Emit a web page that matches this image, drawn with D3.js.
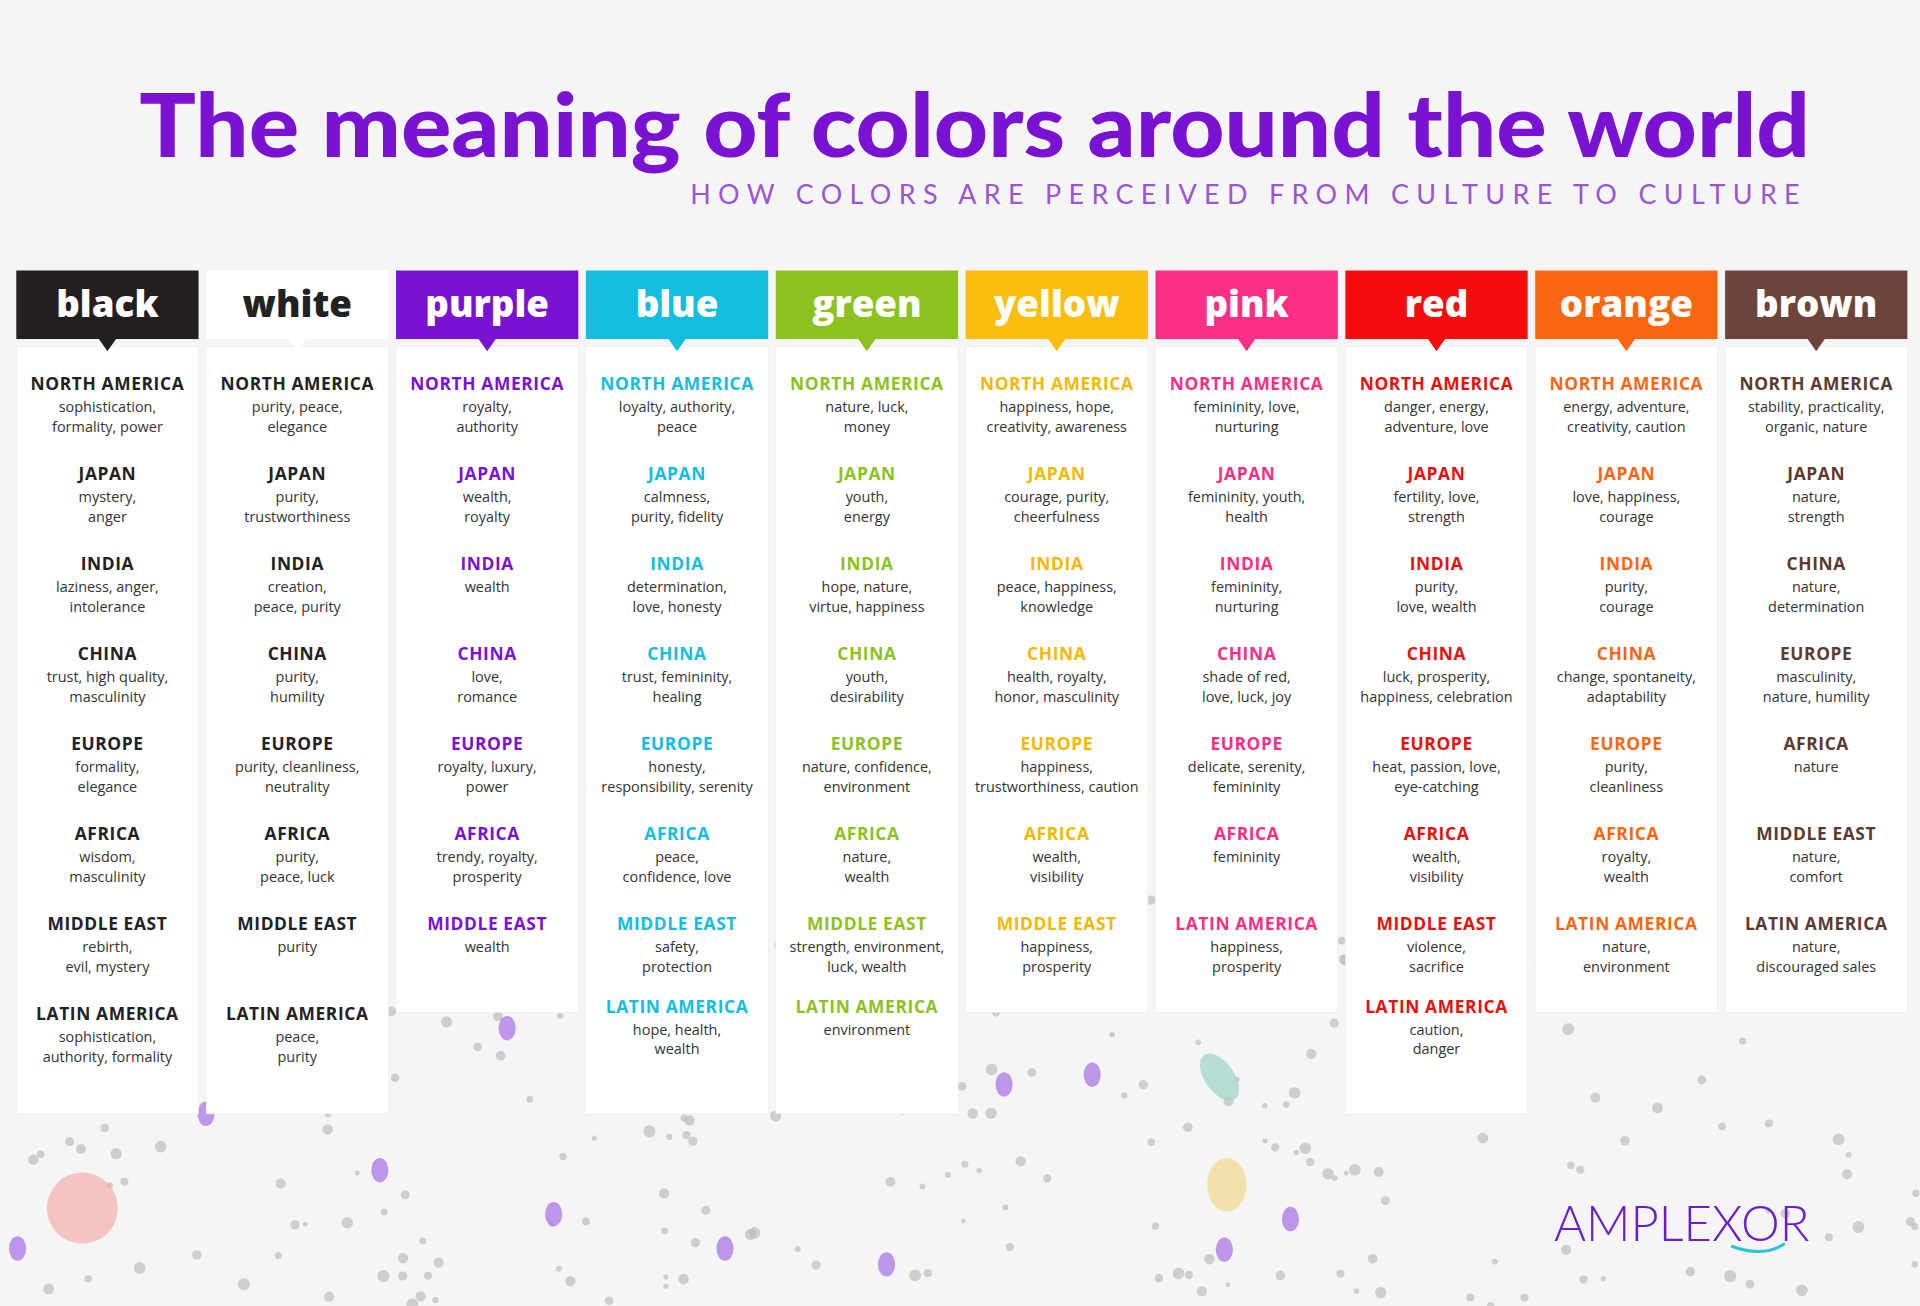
<!DOCTYPE html>
<html><head><meta charset="utf-8">
<script src="https://cdn.jsdelivr.net/npm/d3@7"></script>
<style>body{margin:0;background:#f5f5f5;overflow:hidden}svg{display:block}</style>
</head><body>
<svg id="c" width="1920" height="1306" viewBox="0 0 1568 1067"></svg>
<script>
const colorNames = ["black","white","purple","blue","green","yellow","pink","red","orange","brown"];
const headerColors = ["#231f20","#ffffff","#7a12d4","#13bde0","#8cc21f","#fbbe0f","#fb2f86","#f50c0c","#fb6611","#6d4439"];
const textColors = ["#222","#222","#7a12d4","#13bde0","#8cc21f","#f5b800","#fb2f86","#e8100e","#fb6611","#5a3a32"];
const blackData = [["NORTH AMERICA","sophistication,|formality, power"],["JAPAN","mystery,|anger"],["INDIA","laziness, anger,|intolerance"],["CHINA","trust, high quality,|masculinity"],["EUROPE","formality,|elegance"],["AFRICA","wisdom,|masculinity"],["MIDDLE EAST","rebirth,|evil, mystery"],["LATIN AMERICA","sophistication,|authority, formality"]];
const whiteData = [["NORTH AMERICA","purity, peace,|elegance"],["JAPAN","purity,|trustworthiness"],["INDIA","creation,|peace, purity"],["CHINA","purity,|humility"],["EUROPE","purity, cleanliness,|neutrality"],["AFRICA","purity,|peace, luck"],["MIDDLE EAST","purity"],["LATIN AMERICA","peace,|purity"]];
const purpleData = [["NORTH AMERICA","royalty,|authority"],["JAPAN","wealth,|royalty"],["INDIA","wealth"],["CHINA","love,|romance"],["EUROPE","royalty, luxury,|power"],["AFRICA","trendy, royalty,|prosperity"],["MIDDLE EAST","wealth"]];
const blueData = [["NORTH AMERICA","loyalty, authority,|peace"],["JAPAN","calmness,|purity, fidelity"],["INDIA","determination,|love, honesty"],["CHINA","trust, femininity,|healing"],["EUROPE","honesty,|responsibility, serenity"],["AFRICA","peace,|confidence, love"],["MIDDLE EAST","safety,|protection"],["LATIN AMERICA","hope, health,|wealth"]];
const greenData = [["NORTH AMERICA","nature, luck,|money"],["JAPAN","youth,|energy"],["INDIA","hope, nature,|virtue, happiness"],["CHINA","youth,|desirability"],["EUROPE","nature, confidence,|environment"],["AFRICA","nature,|wealth"],["MIDDLE EAST","strength, environment,|luck, wealth"],["LATIN AMERICA","environment"]];
const yellowData = [["NORTH AMERICA","happiness, hope,|creativity, awareness"],["JAPAN","courage, purity,|cheerfulness"],["INDIA","peace, happiness,|knowledge"],["CHINA","health, royalty,|honor, masculinity"],["EUROPE","happiness,|trustworthiness, caution"],["AFRICA","wealth,|visibility"],["MIDDLE EAST","happiness,|prosperity"]];
const pinkData = [["NORTH AMERICA","femininity, love,|nurturing"],["JAPAN","femininity, youth,|health"],["INDIA","femininity,|nurturing"],["CHINA","shade of red,|love, luck, joy"],["EUROPE","delicate, serenity,|femininity"],["AFRICA","femininity"],["LATIN AMERICA","happiness,|prosperity"]];
const redData = [["NORTH AMERICA","danger, energy,|adventure, love"],["JAPAN","fertility, love,|strength"],["INDIA","purity,|love, wealth"],["CHINA","luck, prosperity,|happiness, celebration"],["EUROPE","heat, passion, love,|eye-catching"],["AFRICA","wealth,|visibility"],["MIDDLE EAST","violence,|sacrifice"],["LATIN AMERICA","caution,|danger"]];
const orangeData = [["NORTH AMERICA","energy, adventure,|creativity, caution"],["JAPAN","love, happiness,|courage"],["INDIA","purity,|courage"],["CHINA","change, spontaneity,|adaptability"],["EUROPE","purity,|cleanliness"],["AFRICA","royalty,|wealth"],["LATIN AMERICA","nature,|environment"]];
const brownData = [["NORTH AMERICA","stability, practicality,|organic, nature"],["JAPAN","nature,|strength"],["CHINA","nature,|determination"],["EUROPE","masculinity,|nature, humility"],["AFRICA","nature"],["MIDDLE EAST","nature,|comfort"],["LATIN AMERICA","nature,|discouraged sales"]];
const allData = [blackData,whiteData,purpleData,blueData,greenData,yellowData,pinkData,redData,orangeData,brownData];

const svg = d3.select("#c");
const deco = svg.append("g");
const rnd = d3.randomLcg(0.42);
for (let i=0;i<420;i++){
  const x = rnd()*1568, y = 560 + rnd()*507;
  const dist = Math.hypot((x-780)/900,(y-1250)/520);
  if (dist>1.05 && y<900) continue;
  deco.append("circle").attr("cx",x).attr("cy",y).attr("r",2+rnd()*3).attr("fill","#bdbdbd").attr("opacity",0.7);
}
[[414,840],[310,956],[452,992],[592,1020],[724,1033],[820,886],[892,878],[1000,1021],[1054,996],[14,1020],[168,910]].forEach(p=>deco.append("ellipse").attr("cx",p[0]).attr("cy",p[1]).attr("rx",7).attr("ry",10).attr("fill","#b07ee6").attr("opacity",0.8));
deco.append("circle").attr("cx",67).attr("cy",987).attr("r",29).attr("fill","#f2a49c").attr("opacity",0.6);
deco.append("ellipse").attr("cx",1002).attr("cy",968).attr("rx",16).attr("ry",22).attr("fill","#f3dc9a").attr("opacity",0.8);
deco.append("ellipse").attr("cx",996).attr("cy",880).attr("rx",12).attr("ry",22).attr("fill","#a8d8cc").attr("transform","rotate(-35 996 880)").attr("opacity",0.8);

svg.append("text").attr("x",796).attr("y",128).attr("text-anchor","middle")
  .attr("font-family","Lato, 'Open Sans', sans-serif").attr("font-weight",900).attr("font-size",71)
  .attr("textLength",1365).attr("lengthAdjust","spacingAndGlyphs")
  .attr("fill","#7a12d4").text("The meaning of colors around the world");
svg.append("text").attr("x",1476).attr("y",167).attr("text-anchor","end")
  .attr("font-family","Lato, sans-serif").attr("font-size",22).attr("letter-spacing",6)
  .attr("fill","#9b55d2").text("HOW COLORS ARE PERCEIVED FROM CULTURE TO CULTURE");

const x = d3.scaleBand().domain(colorNames).range([13,1558]).paddingInner(0.04).paddingOuter(0);
const slotY = d3.scaleLinear().domain([0,1]).range([314,387.5]);

colorNames.forEach((name,i)=>{
  const g = svg.append("g");
  const x0 = x(name), w = x.bandwidth(), cx = x0+w/2;
  const data = allData[i];
  const bottom = data.length===8 ? 910 : 827;
  g.append("rect").attr("x",x0).attr("y",283).attr("width",w).attr("height",bottom-283).attr("fill","#fff")
   .attr("stroke","#ececec").attr("stroke-width",0.5);
  g.append("rect").attr("x",x0).attr("y",221).attr("width",w).attr("height",56).attr("fill",headerColors[i]);
  g.append("path").attr("d",`M${cx-7},277L${cx+7},277L${cx},287Z`).attr("fill",i===1?"#ffffff":headerColors[i]);
  g.append("text").attr("x",cx).attr("y",259).attr("text-anchor","middle")
   .attr("font-family","'Open Sans', sans-serif").attr("font-weight",800).attr("font-size",30)
   .attr("fill",i===1?"#222":"#fff").text(name);
  data.forEach((d,j)=>{
    let y = slotY(j);
    if (j===7 && (i===3||i===4||i===7)) y -= 6;
    g.append("text").attr("x",cx).attr("y",y+5).attr("text-anchor","middle")
     .attr("font-family","'Open Sans', sans-serif").attr("font-weight",700).attr("font-size",14.2)
     .attr("letter-spacing",0.5).attr("fill",textColors[i]).text(d[0]);
    d[1].split("|").forEach((l,k)=>{
      g.append("text").attr("x",cx).attr("y",y+23+k*16).attr("text-anchor","middle")
       .attr("font-family","'Open Sans', sans-serif").attr("font-size",11.8).attr("fill","#333").text(l);
    });
  });
});

svg.append("text").attr("x",1478).attr("y",1014).attr("text-anchor","end")
  .attr("font-family","Lato, sans-serif").attr("font-weight",300).attr("font-size",40)
  .attr("fill","#6a1fc8").text("AMPLEXOR");
svg.append("path").attr("d","M1414,1018 Q1440,1028 1458,1016").attr("fill","none").attr("stroke","#2ec4d6").attr("stroke-width",2.5);
</script>
</body></html>
